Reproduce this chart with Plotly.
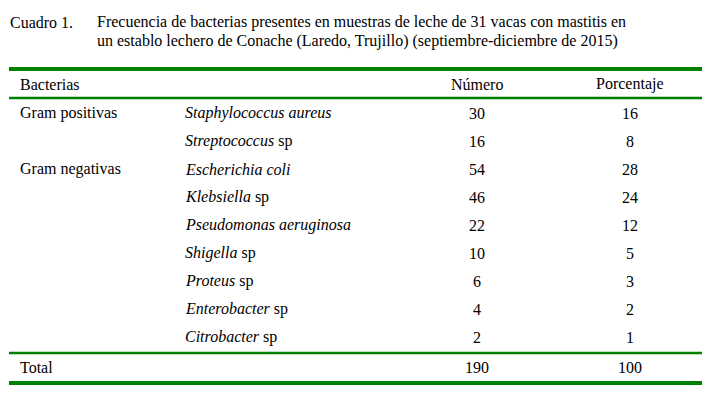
import plotly.graph_objects as go

groups = ["Gram positivas", "", "Gram negativas", "", "", "", "", "", ""]
genus = ["Staphylococcus aureus", "Streptococcus", "Escherichia coli", "Klebsiella",
         "Pseudomonas aeruginosa", "Shigella", "Proteus", "Enterobacter", "Citrobacter"]
suffix = ["", " sp", "", " sp", "", " sp", " sp", " sp", " sp"]
numero = [30, 16, 54, 46, 22, 10, 6, 4, 2]
porcentaje = [16, 8, 28, 24, 12, 5, 3, 2, 1]
total_num, total_pct = 190, 100

OFF = 8  # page body margin
FONT = dict(family="Liberation Serif", size=16, color="black")
fig = go.Figure()
ann = []
def t(x, y, s, anchor="left"):
    ann.append(dict(x=x - OFF, y=y - OFF, text=s, showarrow=False, xanchor=anchor,
                    yanchor="middle", font=FONT))

t(8, 22, "Cuadro 1.")
t(95, 22, "Frecuencia de bacterias presentes en muestras de leche de 31 vacas con mastitis en")
t(95, 41, "un establo lechero de Conache (Laredo, Trujillo) (septiembre-diciembre de 2015)")
t(18, 84, "Bacterias")
t(477, 84, "Número", "center")
t(630, 84, "Porcentaje", "center")
for i in range(len(genus)):
    y = 113 + 28 * i
    if groups[i]:
        t(18, y, groups[i])
    t(183, y, "<i>" + genus[i] + "</i>" + suffix[i])
    t(477, y, str(numero[i]), "center")
    t(630, y, str(porcentaje[i]), "center")
t(18, 367, "Total")
t(477, 367, str(total_num), "center")
t(630, 367, str(total_pct), "center")

G = "#008000"
shapes = [dict(type="line", x0=9 - OFF, x1=702 - OFF, y0=y - OFF, y1=y - OFF,
               line=dict(color=G, width=w))
          for y, w in [(69, 4), (98, 2.5), (353, 2.5), (383, 4)]]
fig.update_layout(width=710, height=405, margin=dict(l=0, r=0, t=0, b=0),
                  plot_bgcolor="white", paper_bgcolor="white",
                  xaxis=dict(range=[0, 710], visible=False, fixedrange=True),
                  yaxis=dict(range=[405, 0], visible=False, fixedrange=True),
                  annotations=ann, shapes=shapes, showlegend=False)
fig.write_html("out.html")
